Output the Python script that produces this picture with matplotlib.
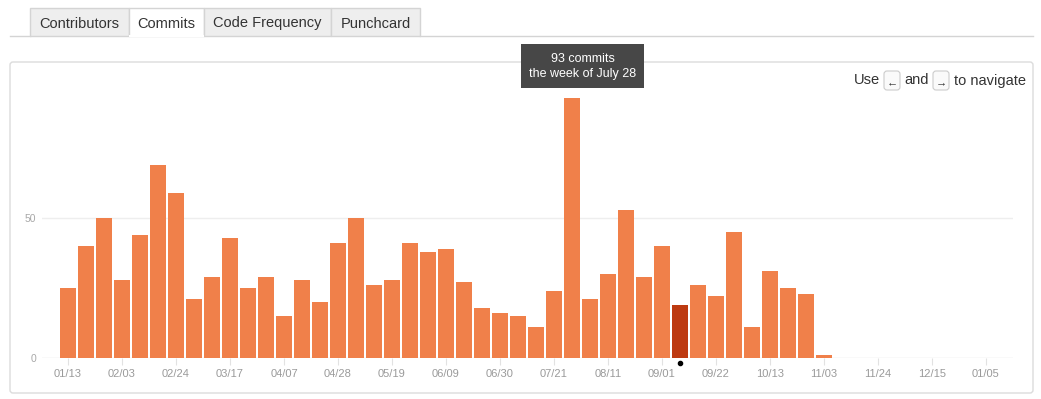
#!/usr/bin/env python
# -*- coding: utf-8 -*-
import sys
import numpy as np
import matplotlib as mpl
mpl.use("Agg")
import matplotlib.pyplot as plt
from matplotlib.patches import Rectangle, FancyBboxPatch

# weekly commit counts, week of 01/13 onwards (52 weeks)
commits = [25, 40, 50, 28, 44, 69, 59, 21, 29, 43,
           25, 29, 15, 28, 20, 41, 50, 26, 28, 41,
           38, 39, 27, 18, 16, 15, 11, 24, 93, 21,
           30, 53, 29, 40, 19, 26, 22, 45, 11, 31,
           25, 23, 1, 0, 0, 0, 0, 0, 0, 0,
           0, 0]
tick_labels = ["01/13", "02/03", "02/24", "03/17", "04/07", "04/28",
               "05/19", "06/09", "06/30", "07/21", "08/11", "09/01",
               "09/22", "10/13", "11/03", "11/24", "12/15", "01/05"]
tab_names = ["Contributors", "Commits", "Code Frequency", "Punchcard"]
selected_week = 34
tooltip_lines = ["93 commits", "the week of July 28"]

BAR = "#f0804a"
BAR_SEL = "#bd3a11"
FONT = ["Liberation Sans", "DejaVu Sans"]


def main():
  plt.rcParams['font.family'] = FONT
  W, H = 1041, 399
  fig = plt.figure(figsize=(W / 100, H / 100), dpi=100)

  # page overlay in pixel coordinates
  bg = fig.add_axes([0, 0, 1, 1], zorder=0)
  bg.set_xlim(0, W)
  bg.set_ylim(H, 0)
  bg.axis("off")

  # tabs
  tab_x = [30, 129, 204, 331, 420]
  for k, name in enumerate(tab_names):
    x0, x1 = tab_x[k], tab_x[k + 1]
    active = name == "Commits"
    bg.add_patch(Rectangle((x0, 8), x1 - x0, 28, facecolor="white" if active else "#eeeeee",
                           edgecolor="#d4d4d4", lw=1, zorder=2))
    bg.text((x0 + x1) / 2, 23.5, name, ha="center", va="center", fontsize=10.5,
            color="#333333", zorder=3)
  bg.plot([10, 30], [36, 36], color="#d4d4d4", lw=1, zorder=2)
  bg.plot([420, 1033], [36, 36], color="#d4d4d4", lw=1, zorder=2)
  bg.plot([130, 203], [36, 36], color="white", lw=1.5, zorder=4)

  # panel
  bg.add_patch(FancyBboxPatch((10, 62), 1023, 331, boxstyle="round,pad=0,rounding_size=3",
                              facecolor="white", edgecolor="#dcdcdc", lw=1, zorder=1))

  # tooltip
  bg.add_patch(Rectangle((521, 44), 123, 44, facecolor="#474747", edgecolor="none", zorder=5))
  bg.text(582.5, 58.5, tooltip_lines[0], ha="center", va="center", fontsize=9,
          color="white", zorder=6)
  bg.text(582.5, 74.5, tooltip_lines[1], ha="center", va="center", fontsize=9,
          color="white", zorder=6)

  # navigation hint
  bg.text(880, 80.5, "Use", ha="right", va="center", fontsize=10.5, color="#333333")
  for kx, arrow in [(884, "\u2190"), (933, "\u2192")]:
    bg.add_patch(FancyBboxPatch((kx, 71), 16, 19, boxstyle="round,pad=0,rounding_size=3",
                                facecolor="#fafafa", edgecolor="#cccccc", lw=0.8, zorder=2))
    bg.text(kx + 8, 82, arrow, ha="center", va="center", fontsize=8, color="#333333", zorder=3)
  bg.text(917, 80.5, "and", ha="center", va="center", fontsize=10.5, color="#333333")
  bg.text(954, 80.5, "to navigate", ha="left", va="center", fontsize=10.5, color="#333333")

  # chart
  x = np.arange(len(commits))
  left_px, right_px, base_px, top_px = 42, 1013, 358, 90
  x0 = 68
  step = 18
  ax = fig.add_axes([left_px / W, (H - base_px) / H, (right_px - left_px) / W,
                     (base_px - top_px) / H], zorder=2)
  ax.patch.set_alpha(0)
  ax.set_xlim((left_px - x0) / step, (right_px - x0) / step)
  ax.set_ylim(0, (base_px - top_px) / 2.8)

  colors = [BAR_SEL if i == selected_week else BAR for i in x]
  ax.bar(x, commits, width=16 / 18, color=colors, zorder=3, clip_on=False)
  ax.axhline(50, color="#eeeeee", lw=1, zorder=1)
  ax.axhline(0, color="#e2e2e2", lw=1, zorder=1)
  ax.plot([selected_week], [-1.9], "o", color="black", markersize=3, clip_on=False, zorder=4)

  for s in ax.spines.values():
    s.set_visible(False)
  ax.set_xticks(x[::3])
  ax.set_xticklabels(tick_labels, fontsize=8, color="#9a9a9a")
  ax.tick_params(axis="x", length=5, color="#e2e2e2", pad=3)
  ax.set_yticks([0, 50])
  ax.set_yticklabels(["0", "50"], fontsize=7.5, color="#a8a8a8")
  ax.tick_params(axis="y", length=0, pad=4)

  plt.savefig("out.png", dpi=100)


if __name__ == "__main__":
  sys.exit(main())
